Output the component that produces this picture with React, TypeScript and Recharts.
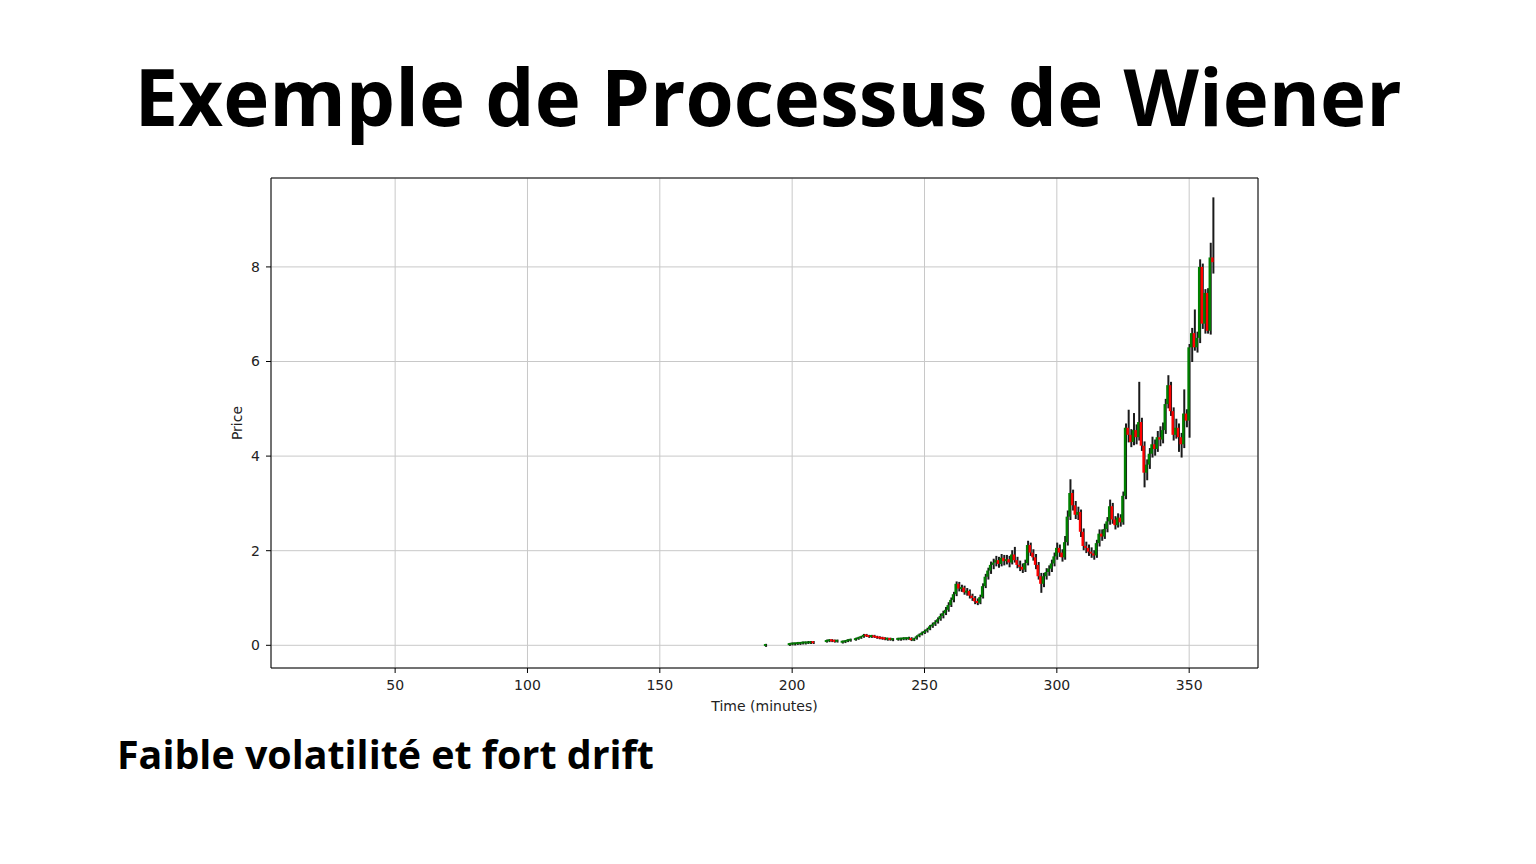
import { ComposedChart, Bar, XAxis, YAxis, CartesianGrid, ReferenceLine, Label } from "recharts";

// [minute, open, high, low, close]
type Row = [number, number, number, number, number];

const quietPhase: Row[] = [
  [190, 0.0, 0.02, -0.01, 0.01],
  [199, 0.02, 0.04, 0.01, 0.03],
  [200, 0.03, 0.05, 0.02, 0.04],
  [201, 0.04, 0.05, 0.03, 0.04],
  [202, 0.04, 0.06, 0.03, 0.05],
  [203, 0.05, 0.06, 0.04, 0.05],
  [204, 0.05, 0.07, 0.04, 0.06],
  [205, 0.06, 0.07, 0.05, 0.06],
  [206, 0.06, 0.08, 0.05, 0.06],
  [207, 0.06, 0.08, 0.05, 0.07],
  [208, 0.07, 0.08, 0.05, 0.06],
  [213, 0.08, 0.11, 0.07, 0.1],
  [214, 0.1, 0.12, 0.09, 0.11],
  [215, 0.11, 0.12, 0.09, 0.1],
  [216, 0.1, 0.11, 0.08, 0.09],
  [217, 0.09, 0.11, 0.08, 0.1],
  [219, 0.07, 0.09, 0.06, 0.08],
  [220, 0.08, 0.1, 0.07, 0.09],
  [221, 0.09, 0.12, 0.08, 0.11],
  [222, 0.11, 0.13, 0.1, 0.12],
  [224, 0.12, 0.15, 0.11, 0.14],
  [225, 0.14, 0.17, 0.13, 0.16],
  [226, 0.16, 0.19, 0.15, 0.18],
  [227, 0.18, 0.23, 0.17, 0.22],
  [228, 0.22, 0.23, 0.19, 0.2],
  [229, 0.2, 0.21, 0.18, 0.19],
  [230, 0.19, 0.21, 0.18, 0.2],
  [231, 0.2, 0.21, 0.17, 0.18],
  [232, 0.18, 0.19, 0.16, 0.17],
  [233, 0.17, 0.18, 0.15, 0.16],
  [234, 0.16, 0.17, 0.14, 0.15],
  [235, 0.15, 0.16, 0.13, 0.14],
  [236, 0.14, 0.15, 0.13, 0.14],
  [237, 0.14, 0.15, 0.12, 0.13],
  [238, 0.13, 0.14, 0.12, 0.13],
  [240, 0.13, 0.15, 0.12, 0.14],
  [241, 0.14, 0.15, 0.13, 0.14],
  [242, 0.14, 0.16, 0.13, 0.15],
  [243, 0.15, 0.16, 0.14, 0.15],
  [244, 0.15, 0.17, 0.14, 0.15],
  [245, 0.15, 0.16, 0.1, 0.11],
  [246, 0.11, 0.15, 0.1, 0.14],
];

const rallyPhase: Row[] = [
  [247, 0.14, 0.2, 0.13, 0.19],
  [248, 0.19, 0.24, 0.18, 0.23],
  [249, 0.23, 0.28, 0.22, 0.26],
  [250, 0.26, 0.32, 0.25, 0.3],
  [251, 0.3, 0.36, 0.28, 0.34],
  [252, 0.34, 0.42, 0.33, 0.4],
  [253, 0.4, 0.47, 0.38, 0.44],
  [254, 0.44, 0.52, 0.42, 0.49],
  [255, 0.49, 0.58, 0.47, 0.55],
  [256, 0.55, 0.66, 0.53, 0.62],
  [257, 0.62, 0.72, 0.58, 0.68],
  [258, 0.68, 0.8, 0.65, 0.75],
  [259, 0.75, 0.9, 0.72, 0.85],
  [260, 0.85, 1.0, 0.82, 0.96],
  [261, 0.96, 1.12, 0.92, 1.08],
  [262, 1.08, 1.34, 1.05, 1.3],
  [263, 1.3, 1.33, 1.15, 1.2],
  [264, 1.2, 1.27, 1.14, 1.22],
  [265, 1.22, 1.25, 1.08, 1.12],
  [266, 1.12, 1.2, 1.06, 1.15],
  [267, 1.15, 1.17, 1.0, 1.05],
  [268, 1.05, 1.08, 0.95, 1.0],
  [269, 1.0, 1.03, 0.88, 0.93],
  [270, 0.93, 0.98, 0.86, 0.9],
  [271, 0.9, 1.06, 0.88, 1.02],
  [272, 1.02, 1.3, 1.0, 1.25],
  [273, 1.25, 1.5, 1.22, 1.45],
  [274, 1.45, 1.63, 1.4, 1.58],
  [275, 1.58, 1.76, 1.52, 1.7],
  [276, 1.7, 1.82, 1.62, 1.75],
  [277, 1.75, 1.88, 1.68, 1.8],
  [278, 1.8, 1.86, 1.65, 1.72],
  [279, 1.72, 1.92, 1.68, 1.85],
  [280, 1.85, 1.9, 1.7, 1.78],
  [281, 1.78, 1.9, 1.72, 1.82],
  [282, 1.82, 1.88, 1.66, 1.75],
  [283, 1.75, 2.0, 1.72, 1.92],
];

const choppyPhase: Row[] = [
  [284, 1.92, 2.07, 1.76, 1.8],
  [285, 1.8, 1.86, 1.64, 1.7],
  [286, 1.7, 1.78, 1.58, 1.66],
  [287, 1.66, 1.72, 1.54, 1.6],
  [288, 1.6, 1.8, 1.56, 1.74],
  [289, 1.74, 2.2, 1.7, 2.12],
  [290, 2.12, 2.16, 1.9, 1.96],
  [291, 1.96, 2.02, 1.8, 1.86],
  [292, 1.86, 1.92, 1.62, 1.7],
  [293, 1.7, 1.75, 1.4, 1.46],
  [294, 1.46, 1.52, 1.12, 1.3],
  [295, 1.3, 1.52, 1.24, 1.46],
  [296, 1.46, 1.62, 1.4, 1.55],
  [297, 1.55, 1.68, 1.48, 1.62],
  [298, 1.62, 1.8, 1.56, 1.73],
  [299, 1.73, 1.95, 1.68, 1.88],
  [300, 1.88, 2.16, 1.82, 2.06],
  [301, 2.06, 2.12, 1.88, 1.96],
  [302, 1.96, 2.02, 1.78, 1.86],
  [303, 1.86, 2.3, 1.82, 2.18],
  [304, 2.18, 2.84, 2.12, 2.72],
  [305, 2.72, 3.5, 2.66, 3.22],
  [306, 3.22, 3.28, 2.86, 2.96],
  [307, 2.96, 3.04, 2.68, 2.76],
  [308, 2.76, 2.92, 2.66, 2.82],
  [309, 2.82, 2.86, 2.3, 2.4],
  [310, 2.4, 2.46, 2.02, 2.1],
  [311, 2.1, 2.18, 1.96, 2.06],
  [312, 2.06, 2.12, 1.9, 1.98],
  [313, 1.98, 2.06, 1.86, 1.94],
  [314, 1.94, 2.0, 1.82, 1.9],
  [315, 1.9, 2.22, 1.86, 2.16],
  [316, 2.16, 2.44, 2.1, 2.36],
  [317, 2.36, 2.44, 2.22, 2.3],
  [318, 2.3, 2.56, 2.26, 2.46],
  [319, 2.46, 2.7, 2.4, 2.62],
  [320, 2.62, 3.07, 2.56, 2.94],
  [321, 2.94, 3.0, 2.58, 2.66],
  [322, 2.66, 2.72, 2.46, 2.54],
  [323, 2.54, 2.78, 2.5, 2.7],
  [324, 2.7, 2.76, 2.52, 2.6],
];

const finalRun: Row[] = [
  [325, 2.6, 3.24, 2.56, 3.16],
  [326, 3.16, 4.68, 3.1, 4.6],
  [327, 4.6, 4.97, 4.3, 4.45],
  [328, 4.45, 4.56, 4.2, 4.3],
  [329, 4.3, 4.9, 4.24, 4.55],
  [330, 4.55, 4.66, 4.26, 4.4],
  [331, 4.4, 5.56, 4.34, 4.72],
  [332, 4.72, 4.8, 4.12, 4.22],
  [333, 4.22, 4.3, 3.35, 3.65],
  [334, 3.65, 3.92, 3.5, 3.82],
  [335, 3.82, 4.16, 3.74, 4.05],
  [336, 4.05, 4.4, 3.98, 4.25],
  [337, 4.25, 4.34, 4.02, 4.15],
  [338, 4.15, 4.52, 4.1, 4.4],
  [339, 4.4, 4.62, 4.22, 4.35],
  [340, 4.35, 4.7, 4.28, 4.55],
  [341, 4.55, 5.2, 4.48, 5.1],
  [342, 5.1, 5.7, 5.02, 5.5],
  [343, 5.5, 5.56, 4.86, 4.95],
  [344, 4.95, 5.02, 4.34, 4.45],
  [345, 4.45, 4.78, 4.38, 4.6],
  [346, 4.6, 4.68, 4.1, 4.4],
  [347, 4.4, 4.48, 3.98, 4.25],
  [348, 4.25, 5.4, 4.18, 4.9],
  [349, 4.9, 4.98, 4.62, 4.75],
  [350, 4.75, 6.36, 4.4, 6.3],
  [351, 6.3, 6.7, 6.0, 6.6],
  [352, 6.6, 7.09, 6.24, 6.3],
  [353, 6.3, 6.62, 6.2, 6.5],
  [354, 6.5, 8.15, 6.4, 8.0],
  [355, 8.0, 8.06, 6.7, 6.8],
  [356, 6.8, 7.52, 6.6, 7.45],
  [357, 7.45, 7.54, 6.6, 6.65],
  [358, 6.65, 8.5, 6.58, 8.2],
  [359, 8.2, 9.46, 7.87, 8.1],
];

const xTicks = [50, 100, 150, 200, 250, 300, 350];
const yTicks = [0, 2, 4, 6, 8];
const xDomain: [number, number] = [3.1, 376];
const yDomain: [number, number] = [-0.48, 9.88];

const candles = [...quietPhase, ...rallyPhase, ...choppyPhase, ...finalRun].map(
  ([minute, open, high, low, close]) => ({ minute, open, high, low, close })
);

const tickFont = { fontFamily: "DejaVu Sans", fontSize: 14, fill: "#222" };

function Candle(props: any) {
  const { x, y, width, height, payload } = props;
  if (x == null || y == null || !payload) return null;
  const top = Math.min(y, y + height);
  const span = Math.abs(height);
  const { open, high, low, close } = payload;
  const range = high - low;
  const toPx = (v: number) => (range > 0 ? top + ((high - v) / range) * span : top);
  const cx = x + width / 2;
  const yOpen = toPx(open);
  const yClose = toPx(close);
  const up = close >= open;
  const bodyH = Math.max(Math.abs(yOpen - yClose), 2);
  return (
    <g>
      <line
        x1={cx + 0.7}
        x2={cx + 0.7}
        y1={top - 0.5}
        y2={top + Math.max(span, 2) + 0.5}
        stroke="#1a1a1a"
        strokeWidth={2}
      />
      <rect
        x={cx - 1.5}
        y={(yOpen + yClose) / 2 - bodyH / 2}
        width={2.4}
        height={bodyH}
        fill={up ? "#008000" : "#ff0000"}
      />
    </g>
  );
}

function PriceLabel(props: any) {
  const vb = props.viewBox || {};
  const cx = vb.x + 37;
  const cy = vb.y + vb.height / 2;
  return (
    <text
      x={cx}
      y={cy}
      transform={`rotate(-90, ${cx}, ${cy})`}
      textAnchor="middle"
      dominantBaseline="central"
      style={tickFont}
    >
      Price
    </text>
  );
}

export default function App() {
  return (
    <div style={{ position: "absolute", left: 0, top: 0, width: 1536, height: 864, background: "#fff" }}>
      <div
        style={{
          position: "absolute",
          left: 0,
          width: 1536,
          top: 46,
          textAlign: "center",
          fontFamily: "'Open Sans'",
          fontWeight: 700,
          fontSize: 78,
          lineHeight: "100px",
          color: "#000",
        }}
      >
        Exemple de Processus de Wiener
      </div>
      <div style={{ position: "absolute", left: 200, top: 170 }}>
        <ComposedChart
          width={1078}
          height={548}
          data={candles}
          margin={{ top: 8, right: 20, bottom: 0, left: 0 }}
        >
          <CartesianGrid stroke="#c8c8c8" strokeWidth={1} />
          <XAxis
            dataKey="minute"
            type="number"
            domain={xDomain}
            allowDataOverflow
            ticks={xTicks}
            height={50}
            stroke="#000"
            tickSize={5}
            tickMargin={7}
            tick={tickFont}
          >
            <Label value="Time (minutes)" position="insideBottom" offset={7} style={tickFont} />
          </XAxis>
          <YAxis
            type="number"
            domain={yDomain}
            allowDataOverflow
            ticks={yTicks}
            width={71}
            stroke="#000"
            tickSize={5}
            tickMargin={6}
            tick={tickFont}
          >
            <Label content={<PriceLabel />} />
          </YAxis>
          <ReferenceLine y={yDomain[1]} stroke="#000" />
          <ReferenceLine x={xDomain[1]} stroke="#000" />
          <Bar
            dataKey={(d: any) => [d.low, d.high]}
            barSize={2}
            shape={<Candle />}
            isAnimationActive={false}
          />
        </ComposedChart>
      </div>
      <div
        style={{
          position: "absolute",
          left: 117,
          top: 732,
          fontFamily: "'Open Sans'",
          fontWeight: 700,
          fontSize: 39.4,
          lineHeight: "44px",
          color: "#000",
        }}
      >
        Faible volatilité et fort drift
      </div>
    </div>
  );
}
